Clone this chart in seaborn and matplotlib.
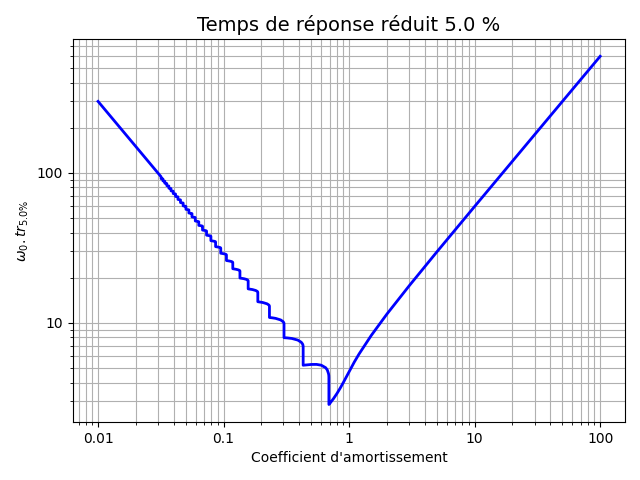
import matplotlib
matplotlib.use("Agg")
import matplotlib.pyplot as plt
from matplotlib.ticker import FuncFormatter, NullFormatter
import numpy as np
import pandas as pd
import seaborn as sns

# Low damping: smooth envelope part
zeta_smooth = [0.01, 0.015, 0.02, 0.025, 0.03177]
tr_smooth = [299.8, 199.9, 150.0, 120.0, 94.3]

# Staircase part (underdamped)
zeta_steps = [
    0.03177, 0.032422, 0.032753, 0.032864,
    0.032864, 0.033562, 0.033917, 0.034036,
    0.034036, 0.034786, 0.035167, 0.035295,
    0.035295, 0.036103, 0.036513, 0.036651,
    0.036651, 0.037522, 0.037966, 0.038115,
    0.038115, 0.039059, 0.039539, 0.039701,
    0.039701, 0.040726, 0.041249, 0.041424,
    0.041424, 0.042541, 0.043111, 0.043303,
    0.043303, 0.044526, 0.045151, 0.045361,
    0.045361, 0.046706, 0.047394, 0.047625,
    0.047625, 0.049109, 0.049869, 0.050125,
    0.050125, 0.051773, 0.052618, 0.052902,
    0.052902, 0.054742, 0.055686, 0.056004,
    0.056004, 0.058072, 0.059135, 0.059493,
    0.059493, 0.061832, 0.063036, 0.063443,
    0.063443, 0.066113, 0.067489, 0.067955,
    0.067955, 0.071029, 0.072617, 0.073155,
    0.073155, 0.076124, 0.077963, 0.078899, 0.079214,
    0.079214, 0.082712, 0.084884, 0.085992, 0.086364,
    0.086364, 0.090544, 0.093149, 0.094479, 0.094926,
    0.094926, 0.10001, 0.10319, 0.10481, 0.10536,
    0.10536, 0.11167, 0.11564, 0.11767, 0.11836,
    0.11836, 0.12639, 0.13147, 0.13409, 0.13497,
    0.13497, 0.14555, 0.15229, 0.15578, 0.15696,
    0.15696, 0.17, 0.18, 0.185, 0.1866, 0.18734,
    0.18734, 0.205, 0.222, 0.229, 0.2312, 0.23189,
    0.23189, 0.245, 0.26, 0.285, 0.298, 0.3018, 0.30292,
    0.30292, 0.32, 0.35, 0.39, 0.415, 0.425, 0.429, 0.43037,
    0.43037, 0.45, 0.5, 0.55, 0.6, 0.65, 0.67, 0.685, 0.689, 0.6901,
]
tr_steps = [
    91.595, 91.435, 91.296, 91.155,
    88.462, 88.298, 88.158, 88.016,
    85.330, 85.163, 85.021, 84.876,
    82.198, 82.030, 81.883, 81.736,
    79.068, 78.895, 78.747, 78.597,
    75.938, 75.762, 75.610, 75.458,
    72.807, 72.629, 72.474, 72.319,
    69.678, 69.496, 69.338, 69.180,
    66.550, 66.364, 66.203, 66.041,
    63.423, 63.233, 63.069, 62.903,
    60.295, 60.102, 59.935, 59.766,
    57.172, 56.973, 56.801, 56.628,
    54.049, 53.846, 53.669, 53.491,
    50.927, 50.719, 50.538, 50.355,
    47.808, 47.594, 47.407, 47.219,
    44.690, 44.471, 44.278, 44.084,
    41.576, 41.349, 41.151, 40.950,
    38.464, 38.278, 38.111, 37.966, 37.818,
    35.357, 35.164, 34.992, 34.840, 34.687,
    32.254, 32.055, 31.876, 31.718, 31.559,
    29.157, 28.950, 28.764, 28.600, 28.433,
    26.067, 25.852, 25.658, 25.486, 25.311,
    22.988, 22.764, 22.560, 22.380, 22.194,
    19.925, 19.712, 19.502, 19.296, 19.086,
    16.873, 16.692, 16.466, 16.259, 16.145, 15.989,
    13.852, 13.690, 13.415, 13.188, 13.054, 12.918,
    10.875, 10.816, 10.726, 10.472, 10.196, 10.042, 9.890,
    7.974, 7.951, 7.880, 7.688, 7.443, 7.256, 7.108, 6.961,
    5.226, 5.247, 5.289, 5.293, 5.229, 5.032, 4.862, 4.599, 4.470, 4.340,
]

# Near-critical and overdamped part
zeta_over = [0.6901, 0.7, 0.75, 0.8, 0.85, 0.9, 0.95, 1.0, 1.05, 1.1,
             1.2, 1.5, 2.0, 3.0, 5.0, 10.0, 20.0, 50.0, 100.0]
tr_over = [2.86, 2.90, 3.126, 3.386, 3.683, 4.013, 4.371, 4.744, 5.115, 5.491,
           6.21, 8.25, 11.46, 17.63, 29.76, 59.81, 119.78, 299.6, 599.1]

df = pd.DataFrame({
    "zeta": zeta_smooth + zeta_steps + zeta_over,
    "tr": tr_smooth + tr_steps + tr_over,
})

fig, ax = plt.subplots(figsize=(6.4, 4.8), dpi=100)
sns.lineplot(data=df, x="zeta", y="tr", estimator=None, sort=False,
             color="blue", linewidth=2, ax=ax)
ax.set_xscale("log")
ax.set_yscale("log")
ax.grid(True, which="both", color="#b0b0b0", linewidth=0.8)
ax.set_axisbelow(True)

fmt = FuncFormatter(lambda v, _: f"{v:g}")
ax.xaxis.set_major_formatter(fmt)
ax.yaxis.set_major_formatter(fmt)
ax.xaxis.set_minor_formatter(NullFormatter())
ax.yaxis.set_minor_formatter(NullFormatter())

ax.set_title("Temps de réponse réduit 5.0 %", fontsize=14)
ax.set_xlabel("Coefficient d'amortissement")
ax.set_ylabel(r"$\omega_0.tr_{5.0\%}$")

fig.subplots_adjust(left=0.114, right=0.977, top=0.919, bottom=0.121)
fig.savefig("out.png", dpi=100)
